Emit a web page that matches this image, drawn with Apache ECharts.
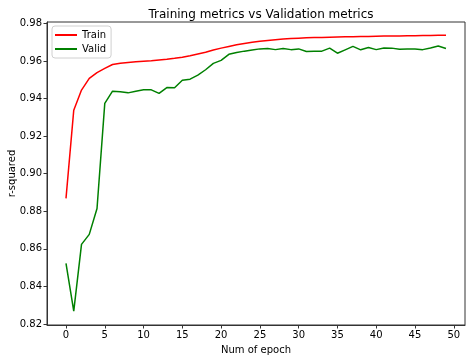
<!DOCTYPE html>
<html><head><meta charset="utf-8">
<script src="https://cdn.jsdelivr.net/npm/echarts@6/dist/echarts.min.js"></script>
<style>html,body{margin:0;padding:0;background:#fff}#c{width:474px;height:361px}</style>
</head><body><div id="c"></div>
<script>
var epochs = [];
for (var i = 0; i < 50; i++) epochs.push(i);
var trainValues = [0.8869, 0.9338, 0.9445, 0.9507, 0.9538, 0.9560, 0.9581, 0.9588, 0.9592, 0.9595,
  0.9598, 0.9601, 0.9605, 0.9609, 0.9614, 0.9620, 0.9628, 0.9637, 0.9646, 0.9658,
  0.9668, 0.9677, 0.9686, 0.9693, 0.9699, 0.9705, 0.9709, 0.9713, 0.9716, 0.9719,
  0.9721, 0.9723, 0.9724, 0.9725, 0.9726, 0.9727, 0.9728, 0.9729, 0.9730, 0.9730,
  0.9731, 0.9732, 0.9732, 0.9733, 0.9734, 0.9734, 0.9735, 0.9735, 0.9736, 0.9736];
var validValues = [0.8523, 0.8269, 0.8624, 0.8677, 0.8815, 0.9374, 0.9439, 0.9436, 0.9430, 0.9439,
  0.9446, 0.9446, 0.9427, 0.9458, 0.9457, 0.9497, 0.9503, 0.9524, 0.9553, 0.9587,
  0.9603, 0.9635, 0.9645, 0.9652, 0.9658, 0.9664, 0.9666, 0.9660, 0.9666, 0.9660,
  0.9664, 0.9650, 0.9652, 0.9652, 0.9668, 0.9641, 0.9659, 0.9677, 0.9659, 0.9671,
  0.9660, 0.9669, 0.9668, 0.9662, 0.9664, 0.9664, 0.9660, 0.9669, 0.9679, 0.9666];
var xTicks = [0, 5, 10, 15, 20, 25, 30, 35, 40, 45, 50];
var yTicks = [0.82, 0.84, 0.86, 0.88, 0.90, 0.92, 0.94, 0.96, 0.98];
var seriesNames = ['Train', 'Valid'];

var font = 'DejaVu Sans';
var chart = echarts.init(document.getElementById('c'), null, {renderer: 'canvas'});
function pairs(vals) { return vals.map(function (v, i) { return [epochs[i], v]; }); }
chart.setOption({
  animation: false,
  backgroundColor: '#fff',
  title: {
    text: 'Training metrics vs Validation metrics',
    left: 256, top: 4, textAlign: 'center',
    textStyle: {fontFamily: font, fontSize: 12, fontWeight: 'normal', color: '#000'}
  },
  legend: {
    orient: 'vertical', left: 52, top: 26,
    data: seriesNames,
    icon: 'rect', itemWidth: 22, itemHeight: 2, itemGap: 4,
    borderColor: '#d0d0d0', borderWidth: 1, borderRadius: 3,
    padding: [4, 5, 4, 3],
    backgroundColor: 'rgba(255,255,255,0.8)',
    textStyle: {fontFamily: font, fontSize: 10, color: '#000', padding: [0, 0, 0, 0]}
  },
  grid: {left: 47, right: 9, top: 22, bottom: 36, containLabel: false, outerBoundsMode: 'none',
    show: true, borderColor: '#333', borderWidth: 1, backgroundColor: 'transparent'},
  xAxis: {
    type: 'value', min: -2.45, max: 51.45,
    name: 'Num of epoch', nameLocation: 'middle', nameGap: 20, nameMoveOverlap: false,
    nameTextStyle: {fontFamily: font, fontSize: 10, color: '#000'},
    splitLine: {show: false},
    axisLine: {show: true, onZero: false, lineStyle: {color: '#333'}},
    axisTick: {show: true, customValues: xTicks, length: 3.5, lineStyle: {color: '#333'}},
    axisLabel: {customValues: xTicks, fontFamily: font, fontSize: 10, color: '#000', margin: 5}
  },
  yAxis: {
    type: 'value', min: 0.8195, max: 0.9807,
    name: 'r-squared', nameLocation: 'middle', nameGap: 30, nameRotate: 90, nameMoveOverlap: false,
    nameTextStyle: {fontFamily: font, fontSize: 10, color: '#000'},
    splitLine: {show: false},
    axisLine: {show: true, onZero: false, lineStyle: {color: '#333'}},
    axisTick: {show: true, customValues: yTicks, length: 3.5, lineStyle: {color: '#333'}},
    axisLabel: {customValues: yTicks, fontFamily: font, fontSize: 10, color: '#000', margin: 5,
      formatter: function (v) { return v.toFixed(2); }}
  },
  series: [
    {name: seriesNames[0], type: 'line', data: pairs(trainValues), showSymbol: false, symbol: 'none',
      itemStyle: {color: '#ff0000'}, lineStyle: {color: '#ff0000', width: 1.5}},
    {name: seriesNames[1], type: 'line', data: pairs(validValues), showSymbol: false, symbol: 'none',
      itemStyle: {color: '#008000'}, lineStyle: {color: '#008000', width: 1.5}}
  ]
});
</script></body></html>
